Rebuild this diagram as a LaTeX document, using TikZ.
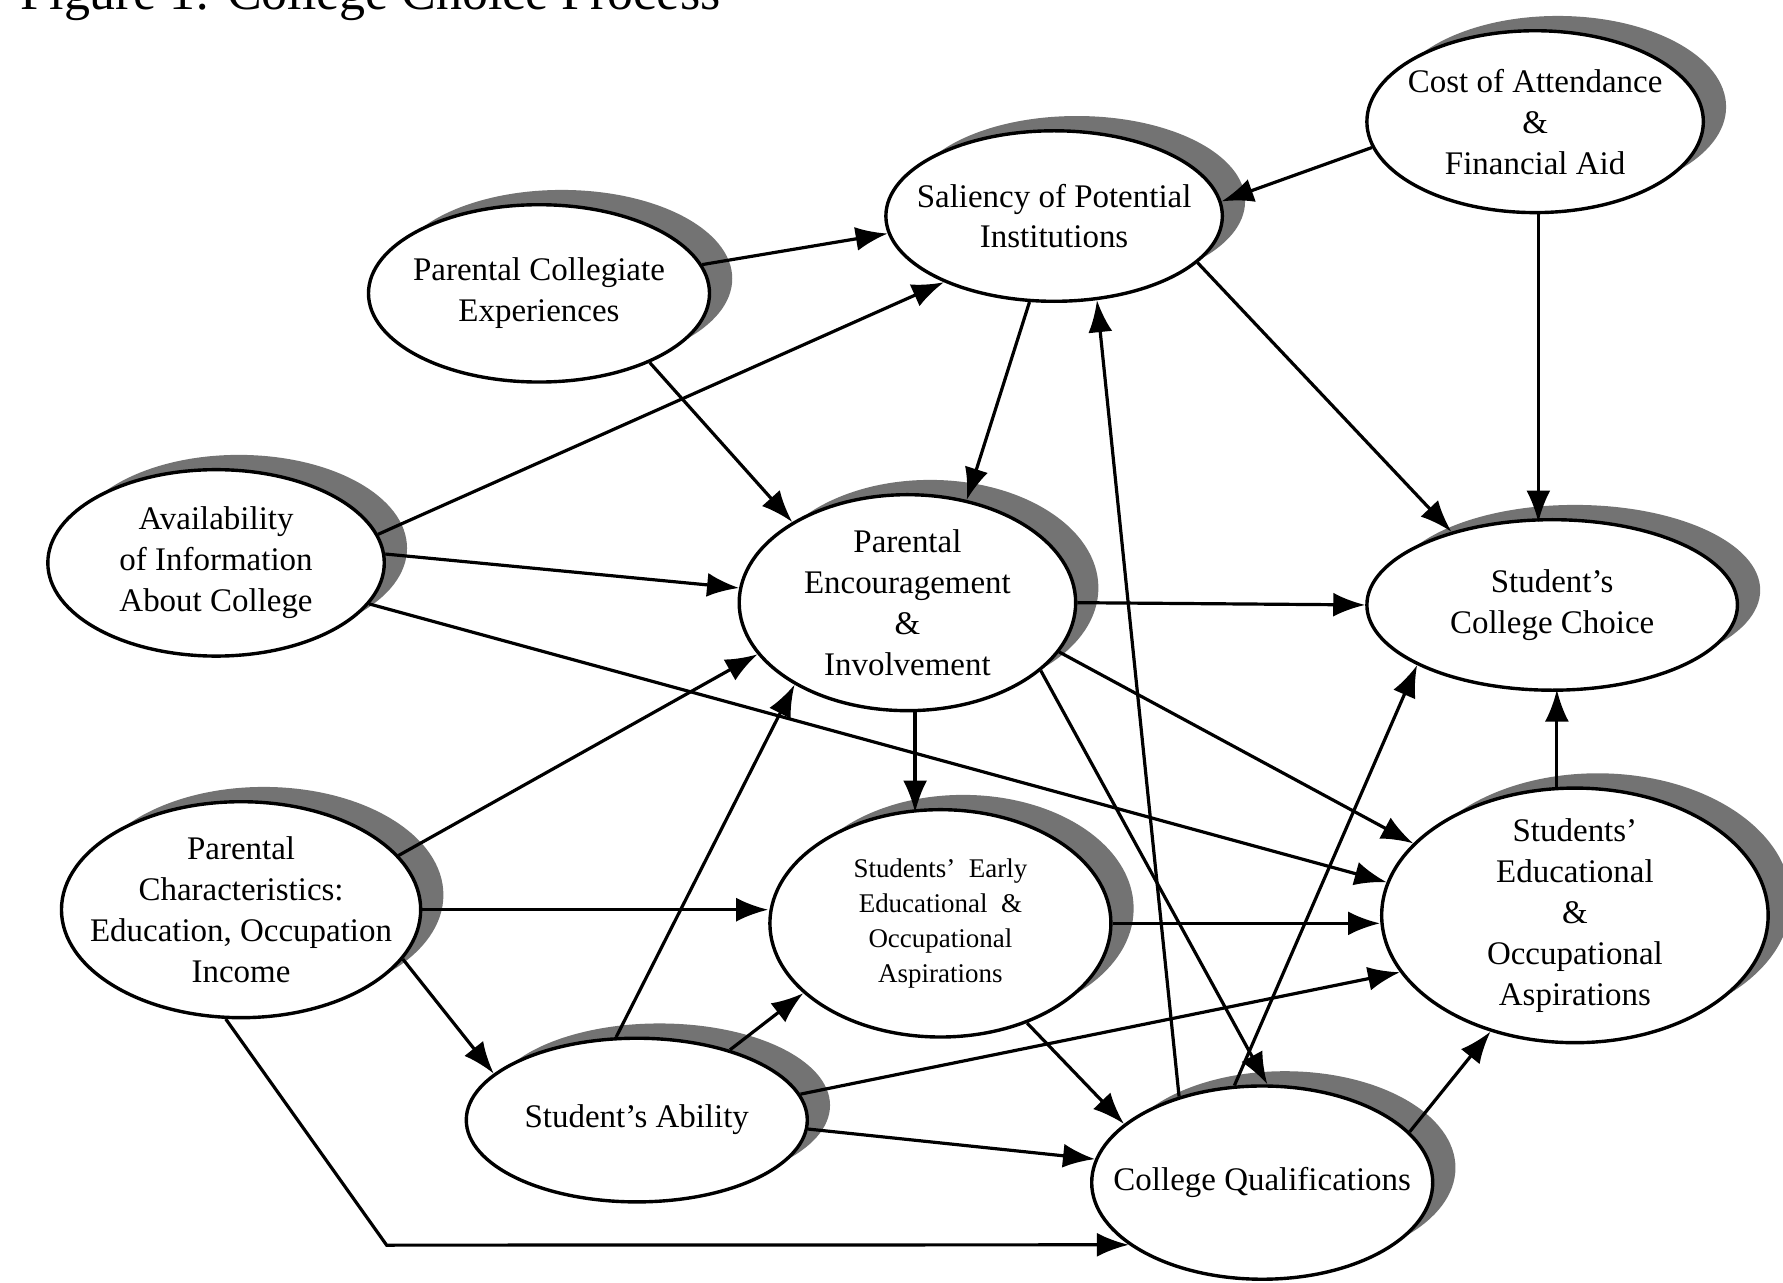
\documentclass[tikz,border=0pt]{standalone}
\usepackage{fontspec}
\setmainfont{Liberation Serif}
\usetikzlibrary{shapes.geometric,arrows.meta,calc}
\newcommand\enode[7]{%
 \node[shape=ellipse,fill=black!55,minimum width=#4*0.04cm,minimum height=#5*0.04cm,inner sep=0pt] at (#2+20,#3-13) {};
 \node[el,minimum width=#4*0.04cm,minimum height=#5*0.04cm,label={[font=#7,align=center]center:{#6}}] (#1) at (#2,#3) {};}
\begin{document}
\begin{tikzpicture}[x=0.02cm,y=-0.02cm,
 el/.style={shape=ellipse,draw,line width=1.7pt,fill=white,inner sep=0pt},
 ar/.style={line width=1.6pt,-{Latex[length=16pt,width=12pt]}}]
\useasboundingbox (0,0) rectangle (1568,1128);
\node[anchor=base west,font=\fontsize{26}{30}\selectfont] (title) at (12,8) {Figure 1: College Choice Process};
\enode{cost}{1350}{107}{148}{80}{Cost of Attendance\\\&\\Financial Aid}{\fontsize{16.5}{20.5}\selectfont}
\enode{sal}{927}{190}{148}{75}{Saliency of Potential\\Institutions}{\fontsize{16.5}{20.5}\selectfont}
\enode{pcol}{474}{258}{150}{78}{Parental Collegiate\\Experiences}{\fontsize{16.5}{20.5}\selectfont}
\enode{avail}{190}{495}{148}{82}{Availability\\of Information\\About College}{\fontsize{16.5}{20.5}\selectfont}
\enode{enc}{798}{530}{148}{95}{Parental\\Encouragement\\\&\\Involvement}{\fontsize{16.5}{20.5}\selectfont}
\enode{choice}{1365}{532}{163}{75}{Student's\\College Choice}{\fontsize{16.5}{20.5}\selectfont}
\enode{pchar}{212}{800}{158}{95}{Parental\\Characteristics:\\Education, Occupation\\Income}{\fontsize{16.5}{20.5}\selectfont}
\enode{early}{827}{812}{150}{100}{Students'\ \ Early\\Educational\ \ \&\\Occupational\\Aspirations}{\fontsize{13.5}{17.5}\selectfont}
\enode{educ}{1385}{805}{170}{112}{Students'\\Educational\\\&\\Occupational\\Aspirations}{\fontsize{16.5}{20.5}\selectfont}
\enode{abil}{560}{985}{150}{72}{Student's Ability}{\fontsize{16.5}{20.5}\selectfont}
\enode{cq}{1110}{1040}{150}{85}{College Qualifications}{\fontsize{16.5}{20.5}\selectfont}
\coordinate (bend) at (340,1095);
\draw[ar] (cost.189) -- (sal.5);
\draw[ar] (cost.272) -- ($(cost.272 |- choice.north)+(0,4)$);
\draw[ar] (pcol.10) -- (sal.186);
\draw[ar] (pcol.328) -- (enc.145);
\draw[ar] (avail.10) -- (sal.211);
\draw[ar] (avail.3) -- (enc.175);
\draw[ar] (avail.345) -- (educ.170);
\draw[ar] (sal.254) -- (enc.60);
\draw[ar] (sal.342) -- (choice.144);
\draw[ar] (enc.0) -- (choice.180);
\draw[ar] (enc.274) -- ($(enc.274 |- early.north)+(0,4)$);
\draw[ar] (enc.342) -- (educ.156);
\draw[ar] (enc.333) -- (cq.87);
\draw[ar] (pchar.19) -- (enc.199);
\draw[ar] (pchar.0) -- (pchar.0 -| early.west);
\draw[ar] (pchar.343) -- (abil.162);
\draw[ar] (pchar.262) -- (bend) -- (cq.205);
\draw[ar] (abil.104) -- (enc.216);
\draw[ar] (abil.37) -- (early.207);
\draw[ar] (abil.9) -- (educ.198);
\draw[ar] (abil.357) -- (cq.172);
\draw[ar] (early.0) -- (early.0 -| educ.west);
\draw[ar] (early.311) -- (cq.157);
\draw[ar] (cq.134) -- (sal.297);
\draw[ar] (cq.106) -- (choice.204);
\draw[ar] (cq.19) -- (educ.234);
\draw[ar] (educ.98) -- ($(educ.98 |- choice.south)+(0,-2)$);
\end{tikzpicture}
\end{document}
